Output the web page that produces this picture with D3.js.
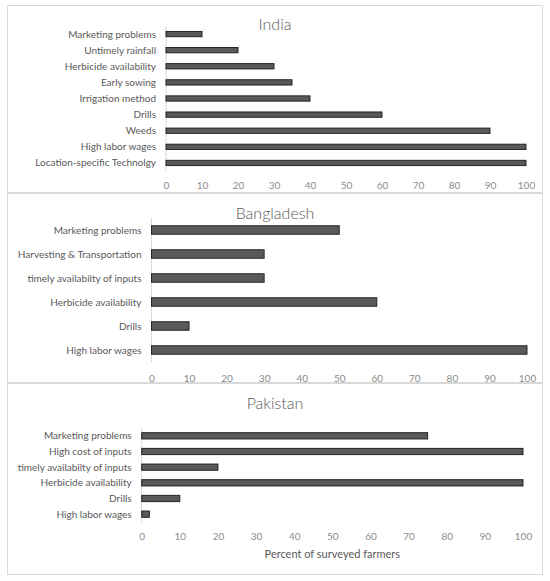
<!DOCTYPE html>
<html>
<head>
<meta charset="utf-8">
<script src="https://cdn.jsdelivr.net/npm/d3@7"></script>
<style>
  body { margin: 0; background: #fff; }
  svg { display: block; font-family: Lato, "Open Sans", sans-serif; }
</style>
</head>
<body>
<svg id="chart" width="550" height="581"></svg>
<script>
// data, top to bottom as shown
const indiaLabels = ["Marketing problems", "Untimely rainfall", "Herbicide availability", "Early sowing",
  "Irrigation method", "Drills", "Weeds", "High labor wages", "Location-specific Technolgy"];
const indiaValues = [10, 20, 30, 35, 40, 60, 90, 100, 100];

const bangladeshLabels = ["Marketing problems", "Harvesting & Transportation", "timely availabilty of inputs",
  "Herbicide availability", "Drills", "High labor wages"];
const bangladeshValues = [50, 30, 30, 60, 10, 100];

const pakistanLabels = ["Marketing problems", "High cost of inputs", "timely availabilty of inputs",
  "Herbicide availability", "Drills", "High labor wages"];
const pakistanValues = [75, 100, 20, 100, 10, 2];

const xTicks = [0, 10, 20, 30, 40, 50, 60, 70, 80, 90, 100];
const axisTitle = "Percent of surveyed farmers";

// panel layout
const panels = [
  { title: "India", labels: indiaLabels, values: indiaValues,
    top: 5, bottom: 193, x0: 166, x1: 526, y0: 26, y1: 171, barH: 5.3, tickY: 185, titleY: 30 },
  { title: "Bangladesh", labels: bangladeshLabels, values: bangladeshValues,
    top: 193, bottom: 383, x0: 151.5, x1: 527, y0: 218, y1: 362, barH: 8.5, tickY: 378, titleY: 219 },
  { title: "Pakistan", labels: pakistanLabels, values: pakistanValues,
    top: 383, bottom: 575, x0: 141.7, x1: 523, y0: 428, y1: 522, barH: 6.3, tickY: 536, titleY: 409,
    axisTitle: axisTitle, axisTitleY: 558 }
];

const svg = d3.select("#chart");
const left = 7, right = 543;

panels.forEach(p => {
  const g = svg.append("g");

  g.append("rect")
    .attr("x", left + 0.5).attr("y", p.top + 0.5)
    .attr("width", right - left - 1).attr("height", p.bottom - p.top - 1)
    .attr("fill", "#fff").attr("stroke", "#d9d9d9");

  const x = d3.scaleLinear().domain([0, 100]).range([p.x0, p.x1]);
  const y = d3.scaleBand().domain(p.labels).range([p.y0, p.y1]).padding(0);

  g.append("text")
    .attr("x", (left + right) / 2).attr("y", p.titleY)
    .attr("text-anchor", "middle")
    .attr("font-size", 16).attr("font-weight", 300).attr("fill", "#595959")
    .text(p.title);

  // category axis line
  g.append("line")
    .attr("x1", x(0)).attr("x2", x(0))
    .attr("y1", p.y0).attr("y2", p.y1)
    .attr("stroke", "#d9d9d9");

  g.selectAll("rect.bar")
    .data(p.values)
    .join("rect")
    .attr("class", "bar")
    .attr("x", x(0))
    .attr("y", (d, i) => y(p.labels[i]) + y.bandwidth() / 2 - p.barH / 2)
    .attr("width", d => x(d) - x(0))
    .attr("height", p.barH)
    .attr("fill", "#595959")
    .attr("stroke", "#1a1a1a")
    .attr("stroke-width", 0.9);

  g.selectAll("text.cat")
    .data(p.labels)
    .join("text")
    .attr("class", "cat")
    .attr("x", x(0) - 10)
    .attr("y", d => y(d) + y.bandwidth() / 2)
    .attr("dy", "0.35em")
    .attr("text-anchor", "end")
    .attr("font-size", 10).attr("fill", "#595959")
    .text(d => d);

  const xAxis = g.append("g")
    .attr("transform", `translate(0,${p.tickY - 3.5})`)
    .call(d3.axisBottom(x).tickValues(xTicks).tickSize(0).tickPadding(0));
  xAxis.select(".domain").remove();
  xAxis.selectAll("text")
    .attr("font-family", "Lato, 'Open Sans', sans-serif")
    .attr("font-size", 10).attr("fill", "#8c8c8c");

  if (p.axisTitle) {
    g.append("text")
      .attr("x", (p.x0 + p.x1) / 2).attr("y", p.axisTitleY)
      .attr("text-anchor", "middle")
      .attr("font-size", 11).attr("fill", "#595959")
      .text(p.axisTitle);
  }
});
</script>
</body>
</html>
